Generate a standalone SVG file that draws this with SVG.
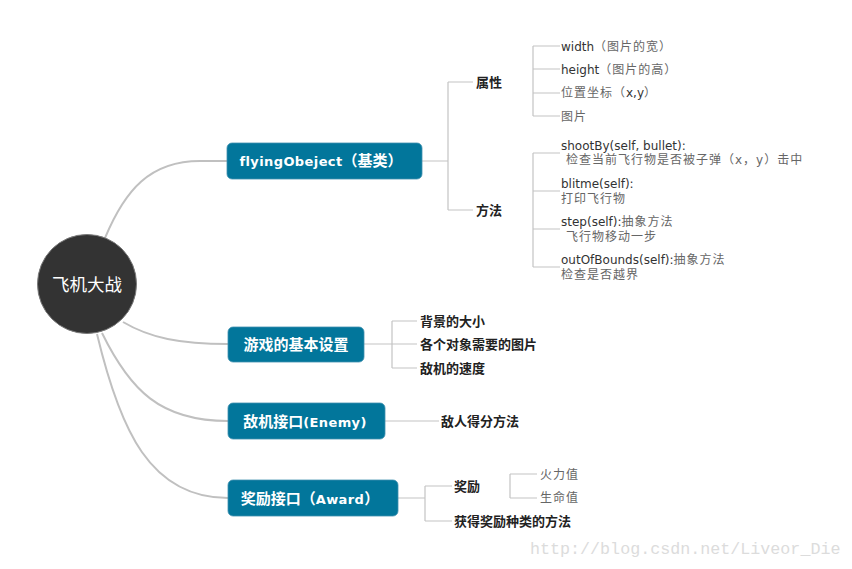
<svg xmlns="http://www.w3.org/2000/svg" width="852" height="569" viewBox="0 0 852 569">
<style>
.bg{fill:#ffffff}
.main{fill:none;stroke:#c0c0c0;stroke-width:2}
.br{fill:none;stroke:#c4c4c4;stroke-width:1.2}
.box{fill:#02769b;stroke:#3f8fae;stroke-width:0.8}
.boxt{fill:#ffffff;font-family:"DejaVu Sans","Noto Sans CJK SC",sans-serif;font-weight:bold;font-size:13px;letter-spacing:0.4px}
.boxt .c{font-size:15px;letter-spacing:0}
.l2{fill:#222;font-family:"Noto Sans CJK SC",sans-serif;font-weight:bold;font-size:13px}
.l3{fill:#333;font-family:"DejaVu Sans","Noto Sans CJK SC",sans-serif;font-size:12px}
.l3 .g,.g{fill:#666;letter-spacing:1px}
.wm{fill:#dcdcdc;font-family:"Liberation Mono",monospace;font-size:16.7px}
</style>
<rect class="bg" x="0" y="0" width="852" height="569"/>
<g id="connectors">
<path class="main" d="M105,238 C125,190 150,161 200,161 L227,161"/>
<path class="main" d="M123,322 C150,338 180,344 228,344"/>
<path class="main" d="M102,333 C130,390 160,421 228,421"/>
<path class="main" d="M97,334 C120,430 150,498 228,498"/>
<path class="br" d="M422,161 H448 M448,82 V210 M448,82 H473 M448,210 H473"/>
<path class="br" d="M533,46 V116 M533,46 H560 M533,69 H560 M533,93 H560 M533,116 H560"/>
<path class="br" d="M533,153 V267 M533,153 H560 M533,191 H560 M533,229 H560 M533,267 H560"/>
<path class="br" d="M364,344 H392 M392,321 V368 M392,321 H417 M392,344 H417 M392,368 H417"/>
<path class="br" d="M385,421 H439"/>
<path class="br" d="M398,498 H425 M425,486 V521 M425,486 H452 M425,521 H452"/>
<path class="br" d="M510,474 V498 M510,474 H537 M510,498 H537"/>
</g>
<g id="root">
<circle cx="87" cy="284" r="49.5" fill="#333333" stroke="#7a7a7a" stroke-width="1"/>
<text x="87" y="290.5" text-anchor="middle" fill="#ffffff" font-family="Noto Sans CJK SC,sans-serif" font-size="17.5px">飞机大战</text>
</g>
<g id="flyingObeject">
<rect class="box" x="227" y="143" width="195" height="36" rx="5"/>
<text class="boxt" x="321" y="166" text-anchor="middle">flyingObeject<tspan class="c">（基类）</tspan></text>
</g>
<g id="attr">
<text class="l2" x="476" y="86.5">属性</text>
</g>
<g id="attr-items">
<text class="l3" x="561" y="50.5">width<tspan class="g">（图片的宽）</tspan></text>
<text class="l3" x="561" y="73.5">height<tspan class="g">（图片的高）</tspan></text>
<text class="l3" x="561" y="96.5"><tspan class="g">位置坐标（</tspan>x,y<tspan class="g">）</tspan></text>
<text class="l3" x="561" y="120.5"><tspan class="g">图片</tspan></text>
</g>
<g id="method">
<text class="l2" x="476" y="214.5">方法</text>
</g>
<g id="method-items">
<text class="l3" x="561" y="149.5">shootBy(self, bullet):</text>
<text class="l3" x="566" y="163.5"><tspan class="g">检查当前飞行物是否被子弹（x，y）击中</tspan></text>
<text class="l3" x="561" y="187.5">blitme(self):</text>
<text class="l3" x="561" y="202.5"><tspan class="g">打印飞行物</tspan></text>
<text class="l3" x="561" y="225.5">step(self):<tspan class="g">抽象方法</tspan></text>
<text class="l3" x="566" y="240.5"><tspan class="g">飞行物移动一步</tspan></text>
<text class="l3" x="561" y="263.5">outOfBounds(self):<tspan class="g">抽象方法</tspan></text>
<text class="l3" x="561" y="278.5"><tspan class="g">检查是否越界</tspan></text>
</g>
<g id="settings">
<rect class="box" x="228" y="327" width="136" height="35" rx="5"/>
<text class="boxt" x="296" y="349.5" text-anchor="middle"><tspan class="c">游戏的基本设置</tspan></text>
</g>
<g id="settings-items">
<text class="l2" x="420" y="325.5">背景的大小</text>
<text class="l2" x="420" y="348.5">各个对象需要的图片</text>
<text class="l2" x="420" y="372.5">敌机的速度</text>
</g>
<g id="enemy">
<rect class="box" x="228" y="403" width="157" height="36" rx="5"/>
<text class="boxt" x="305" y="426.5" text-anchor="middle"><tspan class="c">敌机接口</tspan>(Enemy)</text>
</g>
<g id="enemy-items">
<text class="l2" x="441" y="425.5">敌人得分方法</text>
</g>
<g id="award">
<rect class="box" x="228" y="480" width="170" height="36" rx="5"/>
<text class="boxt" x="310" y="503.5" text-anchor="middle"><tspan class="c">奖励接口（</tspan>Award<tspan class="c">）</tspan></text>
</g>
<g id="award-items">
<text class="l2" x="454" y="490.5">奖励</text>
<text class="l2" x="454" y="525.5">获得奖励种类的方法</text>
<text class="l3" x="540" y="478.5" font-size="13px"><tspan class="g">火力值</tspan></text>
<text class="l3" x="540" y="502" font-size="13px"><tspan class="g">生命值</tspan></text>
</g>
<text class="wm" x="530" y="554">http://blog.csdn.net/Liveor_Die</text>
</svg>
